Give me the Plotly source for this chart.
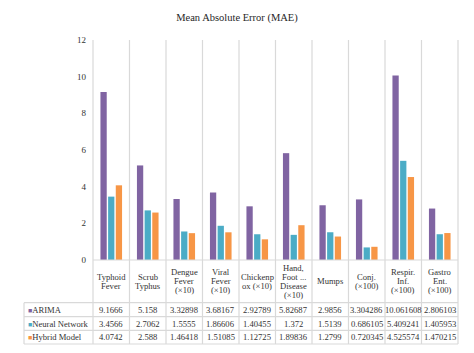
import plotly.graph_objects as go

# ---- data ----
categories = ["Typhoid Fever", "Scrub Typhus", "Dengue Fever (×10)", "Viral Fever (×10)",
              "Chickenpox (×10)", "Hand, Foot ... Disease (×10)", "Mumps", "Conj. (×100)",
              "Respir. Inf. (×100)", "Gastro Ent. (×100)"]
header_lines = [["Typhoid", "Fever"], ["Scrub", "Typhus"], ["Dengue", "Fever", "(×10)"],
                ["Viral", "Fever", "(×10)"], ["Chickenp", "ox (×10)"],
                ["Hand,", "Foot ...", "Disease", "(×10)"], ["Mumps"], ["Conj.", "(×100)"],
                ["Respir.", "Inf.", "(×100)"], ["Gastro", "Ent.", "(×100)"]]
series_names = ["ARIMA", "Neural Network", "Hybrid Model"]
arima = [9.1666, 5.158, 3.32898, 3.68167, 2.92789, 5.82687, 2.9856, 3.304286, 10.061608, 2.806103]
neural = [3.4566, 2.7062, 1.5555, 1.86606, 1.40455, 1.372, 1.5139, 0.686105, 5.409241, 1.405953]
hybrid = [4.0742, 2.588, 1.46418, 1.51085, 1.12725, 1.89836, 1.2799, 0.720345, 4.525574, 1.470215]
colors = ["#8064A2", "#4BACC6", "#F79646"]
yticks = [0, 2, 4, 6, 8, 10, 12]

W, H = 474, 353
L, R, T, B = 93, 16, 40, 93
plot_h = H - T - B
plot_w = W - L - R
FONT = "Liberation Serif, Times New Roman, serif"
TXT = "#333333"
GRID = "#d9d9d9"
FS = 8.6

def py(p):
    return (H - B - p) / plot_h

def px(p):
    return (p - L) / plot_w

fig = go.Figure()
for name, vals, c in zip(series_names, [arima, neural, hybrid], colors):
    fig.add_trace(go.Bar(x=categories, y=vals, name=name, marker_color=c,
                         marker_line_width=0))

shapes = []
n = len(categories)
# vertical category separators (plot + table)
for i in range(n + 1):
    xp = i / n
    shapes.append(dict(type="line", xref="paper", yref="paper", x0=xp, x1=xp,
                       y0=1, y1=py(344), line=dict(color=GRID, width=1.2), layer="below"))
# table horizontal lines
row_edges = [302.7, 316.7, 330.3, 344]
shapes.append(dict(type="line", xref="paper", yref="paper", x0=0, x1=1, y0=0, y1=0,
                   line=dict(color=GRID, width=1.2)))
for r in row_edges:
    shapes.append(dict(type="line", xref="paper", yref="paper", x0=px(24), x1=1,
                       y0=py(r), y1=py(r), line=dict(color=GRID, width=1.2)))
shapes.append(dict(type="line", xref="paper", yref="paper", x0=px(24), x1=px(24),
                   y0=py(302.7), y1=py(344), line=dict(color=GRID, width=1.2)))

annotations = []
# header labels
for cat, lines in zip(categories, header_lines):
    m = len(lines)
    for k, ln in enumerate(lines):
        yc = 281.3 + (k - (m - 1) / 2) * 9
        annotations.append(dict(x=cat, xref="x", y=py(yc), yref="paper", text=ln,
                                showarrow=False, xanchor="center", yanchor="middle",
                                font=dict(family=FONT, size=FS, color=TXT)))
# rows
row_centers = [309.7, 323.5, 337.2]
for name, vals, c, yc in zip(series_names, [arima, neural, hybrid], colors, row_centers):
    annotations.append(dict(x=px(26), xref="paper", y=py(yc), yref="paper",
                            text=f"<span style='color:{c};font-size:7px'>■</span>{name}",
                            showarrow=False, xanchor="left", yanchor="middle",
                            font=dict(family=FONT, size=FS, color=TXT)))
    for cat, v in zip(categories, vals):
        annotations.append(dict(x=cat, xref="x", y=py(yc), yref="paper", text=str(v),
                                showarrow=False, xanchor="center", yanchor="middle",
                                font=dict(family=FONT, size=FS, color=TXT)))

fig.update_layout(
    width=W, height=H,
    margin=dict(l=L, r=R, t=T, b=B, pad=0),
    paper_bgcolor="white", plot_bgcolor="white",
    title=dict(text="Mean Absolute Error (MAE)", x=0.5, xanchor="center", y=1 - 17 / H,
               yanchor="middle", font=dict(family=FONT, size=10.5, color="#262626")),
    barmode="group", bargap=0.37, bargroupgap=0.18,
    showlegend=False,
    xaxis=dict(showticklabels=False, showgrid=False, zeroline=False, showline=False,
               ticks="", fixedrange=True),
    yaxis=dict(range=[0, 12], tickvals=yticks, showgrid=False, zeroline=False,
               showline=False, ticks="", ticklabelstandoff=6,
               tickfont=dict(family=FONT, size=9, color=TXT)),
    shapes=shapes, annotations=annotations,
)
fig.write_html("out.html")
